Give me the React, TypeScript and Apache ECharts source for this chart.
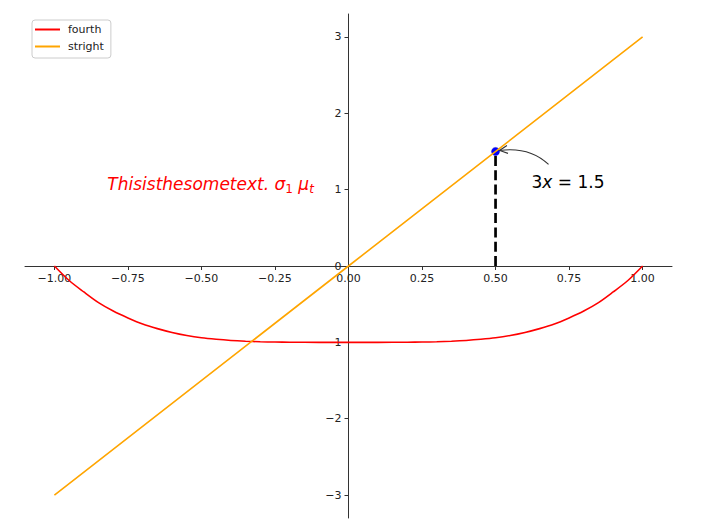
import React, { useEffect, useRef } from "react";
import * as echarts from "echarts";

// ---- data ----
const fourthX = [-1, -0.95, -0.9, -0.85, -0.8, -0.75, -0.7, -0.65, -0.6, -0.55, -0.5, -0.45, -0.4, -0.35, -0.3, -0.25, -0.2, -0.1, 0, 0.1, 0.2, 0.25, 0.3, 0.35, 0.4, 0.45, 0.5, 0.55, 0.6, 0.65, 0.7, 0.75, 0.8, 0.85, 0.9, 0.95, 1];
const fourthY = [0, -0.19, -0.34, -0.48, -0.59, -0.68, -0.76, -0.82, -0.87, -0.91, -0.94, -0.96, -0.975, -0.985, -0.992, -0.996, -0.998, -1.0, -1.0, -1.0, -0.998, -0.996, -0.992, -0.985, -0.975, -0.96, -0.94, -0.91, -0.87, -0.82, -0.76, -0.68, -0.59, -0.48, -0.34, -0.19, 0];
const straightX = [-1, 0, 1];
const straightY = [-3, 0, 3];
const pointX = [0.5];
const pointY = [1.5];
const xTicks = [-1, -0.75, -0.5, -0.25, 0, 0.25, 0.5, 0.75, 1];
const yTicks = [-3, -2, -1, 0, 1, 2, 3];
const seriesNames = ["fourth", "stright"];
const noteAt = [-0.82, 1.0];

const FONT = "DejaVu Sans";
const MINUS = "\u2212";
const GRID = { left: 25, right: 48, top: 14, bottom: 12 };
const W = 720, H = 530;

function zip(xs: number[], ys: number[]) {
  return xs.map((x, i) => [x, ys[i]]);
}

export default function App() {
  const ref = useRef<HTMLDivElement>(null);
  useEffect(() => {
    document.body.style.margin = "0";
    const chart = echarts.init(ref.current!, null, { renderer: "svg" });
    const axisColor = "#333333";
    chart.setOption({
      animation: false,
      grid: { ...GRID, containLabel: false, outerBoundsMode: "none" },
      legend: {
        data: seriesNames,
        orient: "vertical",
        align: "left",
        left: 32,
        top: 20,
        padding: [3, 7, 5, 3],
        itemGap: 4,
        itemWidth: 25,
        itemHeight: 2,
        icon: "rect",
        borderColor: "#cccccc",
        borderWidth: 1,
        borderRadius: 3,
        backgroundColor: "rgba(255,255,255,0.8)",
        textStyle: { fontFamily: FONT, fontSize: 11, color: "#222", lineHeight: 13, padding: [0, 0, 0, 3] },
      },
      xAxis: {
        type: "value",
        min: -1.1,
        max: 1.1,
        position: "bottom",
        axisLine: { onZero: false, lineStyle: { color: axisColor, width: 1 } },
        axisTick: { show: true, length: 4, customValues: xTicks, lineStyle: { color: axisColor } },
        axisLabel: {
          customValues: xTicks,
          margin: 7,
          fontFamily: FONT,
          fontSize: 11,
          color: "#222",
          formatter: (v: number) => v.toFixed(2).replace("-", MINUS),
        },
        splitLine: { show: false },
      },
      yAxis: {
        type: "value",
        min: -3.3,
        max: 3.3,
        position: "left",
        axisLine: { show: true, onZero: false, lineStyle: { color: axisColor, width: 1 } },
        axisTick: { show: true, length: 4, customValues: yTicks, lineStyle: { color: axisColor } },
        axisLabel: {
          customValues: yTicks,
          margin: 7,
          fontFamily: FONT,
          fontSize: 11,
          color: "#222",
          formatter: (v: number) => String(Math.round(v)).replace("-", MINUS),
        },
        splitLine: { show: false },
      },
      series: [
        {
          name: "point",
          type: "scatter",
          data: zip(pointX, pointY),
          symbolSize: 8,
          itemStyle: { color: "#0000ff", borderColor: "#0000cc", borderWidth: 0.5, opacity: 1 },
          z: 1,
        },
        {
          name: seriesNames[0],
          type: "line",
          data: zip(fourthX, fourthY),
          smooth: 0.3,
          symbol: "none",
          lineStyle: { color: "#ff0000", width: 1.6 },
          itemStyle: { color: "#ff0000" },
          z: 2,
        },
        {
          name: seriesNames[1],
          type: "line",
          data: zip(straightX, straightY),
          symbol: "none",
          lineStyle: { color: "#ffa500", width: 1.6 },
          itemStyle: { color: "#ffa500" },
          z: 3,
        },
        {
          name: "guide",
          type: "line",
          data: [
            [pointX[0], 0],
            [pointX[0], pointY[0]],
          ],
          symbol: "none",
          lineStyle: { color: "#000000", width: 2.7, type: [10, 4.3] },
          z: 4,
        },
      ],
    });

    // move the axes (line, ticks and labels together) to the origin, like spines at zero
    const Z = chart.convertToPixel({ gridIndex: 0 }, [0, 0]) as number[];
    chart.setOption({
      xAxis: { offset: -(H - GRID.bottom - Z[1]) },
      yAxis: { offset: -(Z[0] - GRID.left) },
    });

    const P = chart.convertToPixel({ gridIndex: 0 }, [pointX[0], pointY[0]]) as number[];
    const T = chart.convertToPixel({ gridIndex: 0 }, noteAt) as number[];

    // arrow geometry (pixel offsets from the annotated point)
    const sx = P[0] + 53, sy = P[1] + 13;
    const ex = P[0] + 4, ey = P[1] - 1;
    const cx = P[0] + 34, cy = P[1] - 5;
    let dx = ex - cx, dy = ey - cy;
    const len = Math.sqrt(dx * dx + dy * dy);
    dx /= len; dy /= len;
    const hl = 8, hw = 4;
    const bx = ex - hl * dx, by = ey - hl * dy;
    const h1 = [bx - hw * dy, by + hw * dx];
    const h2 = [bx + hw * dy, by - hw * dx];

    chart.setOption({
      graphic: [
        {
          type: "text",
          x: T[0],
          y: T[1] + 5,
          z: 10,
          style: {
            text: "{i|Thisisthesometext.} {i|σ}{s|1} {i|μ}{si|t}",
            fill: "#ff0000",
            fontFamily: FONT,
            fontSize: 17,
            align: "left",
            verticalAlign: "bottom",
            rich: {
              i: { fontFamily: FONT, fontSize: 17, fontStyle: "italic", fill: "#ff0000", lineHeight: 22 },
              s: { fontFamily: FONT, fontSize: 12, fill: "#ff0000", lineHeight: 12, verticalAlign: "bottom" },
              si: { fontFamily: FONT, fontSize: 12, fontStyle: "italic", fill: "#ff0000", lineHeight: 12, verticalAlign: "bottom" },
            },
          },
        },
        {
          type: "text",
          x: P[0] + 36,
          y: P[1] + 42,
          z: 10,
          style: {
            text: "{n|3}{i|x}{n| = 1.5}",
            fill: "#000",
            fontFamily: FONT,
            fontSize: 17,
            align: "left",
            verticalAlign: "bottom",
            rich: {
              n: { fontFamily: FONT, fontSize: 17, fill: "#000", lineHeight: 22 },
              i: { fontFamily: FONT, fontSize: 17, fontStyle: "italic", fill: "#000", lineHeight: 22 },
            },
          },
        },
        {
          type: "bezierCurve",
          z: 10,
          shape: { x1: sx, y1: sy, x2: ex, y2: ey, cpx1: cx, cpy1: cy },
          style: { stroke: "#333", lineWidth: 1.1, fill: "none" },
        },
        {
          type: "polyline",
          z: 10,
          shape: { points: [h1, [ex, ey], h2] },
          style: { stroke: "#333", lineWidth: 1.1, fill: "none" },
        },
      ],
    });

    return () => chart.dispose();
  }, []);
  return <div ref={ref} style={{ width: W, height: H }} />;
}
